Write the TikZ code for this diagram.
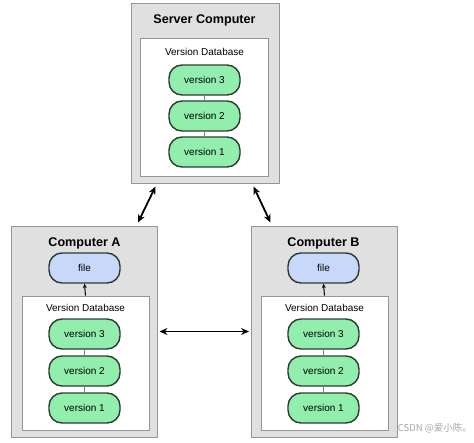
\documentclass[tikz,border=0pt]{standalone}
\usepackage{fontspec}
\setmainfont{Liberation Sans}
\newfontfamily\cjk{Noto Sans CJK SC}
\usetikzlibrary{arrows.meta,calc}
\definecolor{boxgray}{RGB}{224,224,224}
\definecolor{boxedge}{RGB}{150,150,150}
\definecolor{pillgreen}{RGB}{146,238,172}
\definecolor{pillblue}{RGB}{200,216,250}
\definecolor{pilledge}{RGB}{45,60,50}
\tikzset{
  machine/.style={draw=boxedge, fill=boxgray, line width=1pt, rectangle, inner sep=0pt, minimum width=146pt, minimum height=211pt},
  dbbox/.style={draw=boxedge, fill=white, line width=0.8pt, rectangle, inner sep=0pt},
  pill/.style={draw=pilledge, fill=pillgreen, line width=1.4pt, rounded corners=13pt, minimum width=71pt, minimum height=30pt, inner sep=0pt, font=\fontsize{10}{11}\selectfont},
  filepill/.style={pill, fill=pillblue},
  title/.style={font=\fontsize{12.6}{14}\selectfont\bfseries, inner sep=0pt},
  dblabel/.style={font=\fontsize{10}{11}\selectfont, inner sep=0pt},
  link/.style={draw=black!50, line width=0.7pt},
  arr/.style={{Stealth[length=8pt,width=7pt]}-{Stealth[length=8pt,width=7pt]}, line width=1.8pt},
  small/.style={-{Stealth[length=4.5pt,width=4pt]}, line width=1pt}
}
\begin{document}
\begin{tikzpicture}[x=1pt,y=-1pt]
\useasboundingbox[fill=white] (0,0) rectangle (474,442);
% Server
\node[machine, minimum width=148pt, minimum height=180pt] (srv) at (205,93) {};
\node[dbbox, minimum width=128pt, minimum height=138pt] (sdb) at (204.5,107) {};
\node[title] (stitle) at (204.5,20) {Server Computer};
\node[dblabel] (sdbl) at (204.5,52) {Version Database};
\node[pill] (s3) at (204.5,80) {version 3};
\node[pill] (s2) at (204.5,116) {version 2};
\node[pill] (s1) at (204.5,152) {version 1};
\draw[link] (s3.south) -- (s2.north);
\draw[link] (s2.south) -- (s1.north);
% Computer A
\node[machine] (ca) at (84.5,331.5) {};
\node[dbbox, minimum width=127pt, minimum height=134pt] (adb) at (85.5,363) {};
\node[title] (atitle) at (84.5,243) {Computer A};
\node[filepill] (afile) at (84.5,268) {file};
\node[dblabel] (adbl) at (85.5,308) {Version Database};
\node[pill] (a3) at (84.5,334) {version 3};
\node[pill] (a2) at (84.5,371) {version 2};
\node[pill] (a1) at (84.5,408) {version 1};
\draw[link] (a3.south) -- (a2.north);
\draw[link] (a2.south) -- (a1.north);
\draw[small] (adb.north) -- (afile.south);
% Computer B
\node[machine] (cb) at (324,331.5) {};
\node[dbbox, minimum width=127pt, minimum height=134pt] (bdb) at (324.5,363) {};
\node[title] (btitle) at (323.5,243) {Computer B};
\node[filepill] (bfile) at (323.5,268) {file};
\node[dblabel] (bdbl) at (324.5,308) {Version Database};
\node[pill] (b3) at (323.5,334) {version 3};
\node[pill] (b2) at (323.5,371) {version 2};
\node[pill] (b1) at (323.5,408) {version 1};
\draw[link] (b3.south) -- (b2.north);
\draw[link] (b2.south) -- (b1.north);
\draw[small] (bdb.north) -- (bfile.south);
% arrows
\draw[arr] ([xshift=25pt,yshift=-3pt]srv.south west) -- ([xshift=-20pt,yshift=3pt]ca.north east);
\draw[arr] ([xshift=-26pt,yshift=-3pt]srv.south east) -- ([xshift=20pt,yshift=3pt]cb.north west);
\draw[arr] ([xshift=1.5pt]ca.east) -- ([xshift=-1.5pt]cb.west);
% watermark
\node[font=\fontsize{9.5}{11}\selectfont\cjk, text=black!35, anchor=east, inner sep=0pt] (wm) at (472,428) {CSDN @爱小陈。};
\end{tikzpicture}
\end{document}
